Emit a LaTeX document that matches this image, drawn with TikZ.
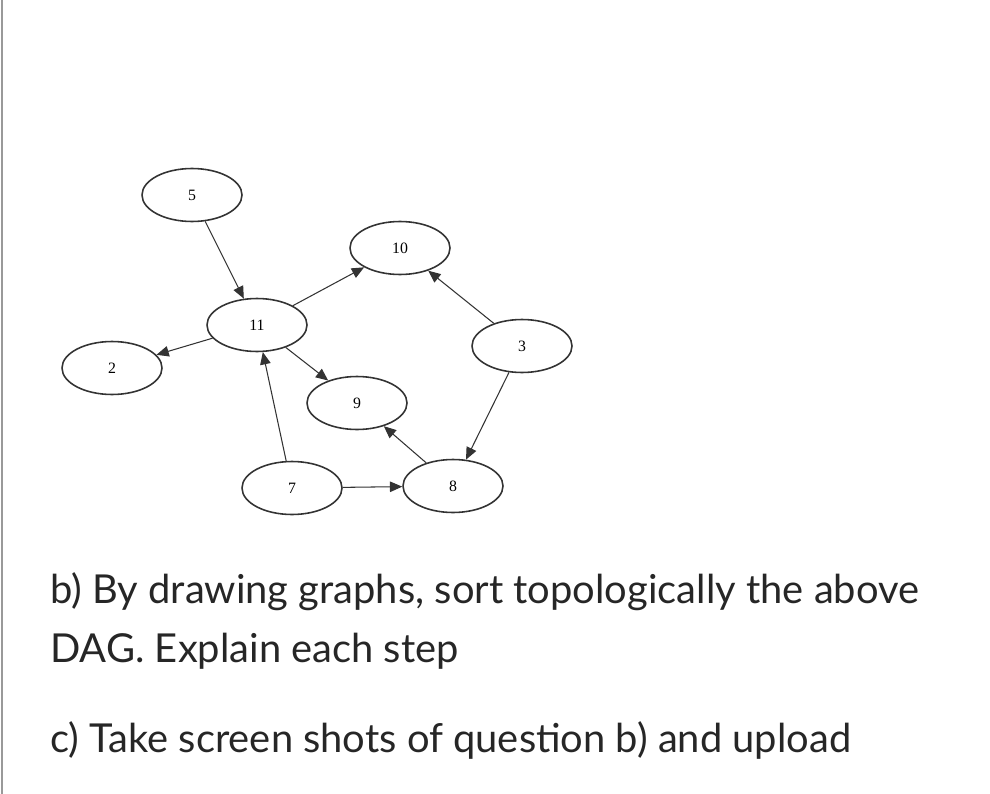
\documentclass[tikz,border=0pt]{standalone}
\usepackage{fontspec}
\setmainfont{Liberation Serif}
\newfontfamily\lato{Lato}
\usetikzlibrary{shapes.geometric,arrows.meta}
\begin{document}
\begin{tikzpicture}[x=0.02cm,y=-0.02cm,
  vert/.style={ellipse,draw=black!80,line width=0.9pt,minimum width=2cm,minimum height=1.06cm,inner sep=0pt,font=\fontsize{9}{10}\selectfont},
  edge/.style={line width=0.6pt,black!80,-{Triangle[length=7pt,width=6pt]}},
  qtext/.style={anchor=base west,font=\lato\fontsize{22.7}{26}\selectfont,text=black!85,inner sep=0pt}]
\useasboundingbox (0,0) rectangle (990,794);
\draw[black!40,line width=1pt] (2,0) -- (2,794);
\node[vert] (n5) at (192,195) {5};
\node[vert] (n10) at (400,248) {10};
\node[vert] (n11) at (257,325) {11};
\node[vert] (n3) at (522,346) {3};
\node[vert] (n2) at (112,368) {2};
\node[vert] (n9) at (357,403) {9};
\node[vert] (n7) at (292,488) {7};
\node[vert] (n8) at (453,486) {8};
\draw[edge] (n5) -- (n11);
\draw[edge] (n11) -- (n10);
\draw[edge] (n11) -- (n2);
\draw[edge] (n11) -- (n9);
\draw[edge] (n3) -- (n10);
\draw[edge] (n3) -- (n8);
\draw[edge] (n7) -- (n11);
\draw[edge] (n7) -- (n8);
\draw[edge] (n8) -- (n9);
\node[qtext] (t1) at (50,603) {b) By drawing graphs, sort topologically the above};
\node[qtext] (t2) at (50,662) {DAG. Explain each step};
\node[qtext] (t3) at (50,752) {c) Take screen shots of question b) and upload};
\end{tikzpicture}
\end{document}
